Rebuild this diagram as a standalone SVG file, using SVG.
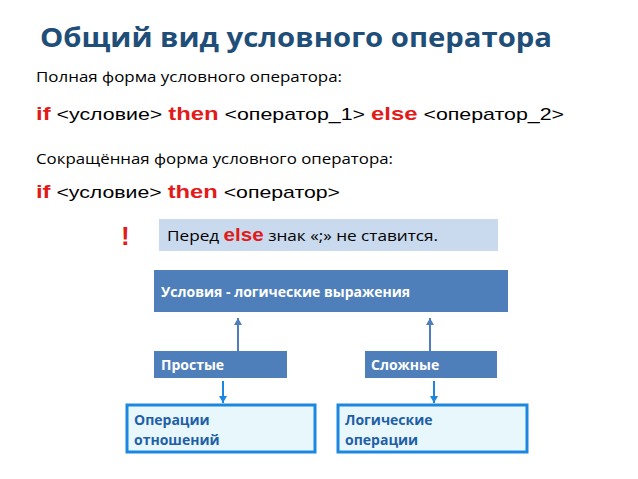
<svg xmlns="http://www.w3.org/2000/svg" width="638" height="479" viewBox="0 0 638 479">
<defs>
<style>
.c{font-family:"Open Sans","Noto Sans",sans-serif}
.a{font-family:"Liberation Sans",Arial,sans-serif}
.kw{fill:#e21a1a;font-weight:bold}
.w{fill:#fff;font-weight:bold;font-size:14px}
.b{fill:#1f5fa8;font-weight:bold;font-size:14px}
.dark{fill:#4f7fba}
.lt{fill:#e8f7fb;stroke:#1b87e0;stroke-width:3}
</style>
<marker id="ah" markerWidth="8" markerHeight="8" refX="7" refY="4" orient="auto" markerUnits="userSpaceOnUse"><path d="M0,0 L7,4 L0,8 z" fill="#4f7fba"/></marker>
<marker id="ah2" markerWidth="8" markerHeight="8" refX="7" refY="4" orient="auto" markerUnits="userSpaceOnUse"><path d="M0,0 L7,4 L0,8 z" fill="#1b87e0"/></marker>
</defs>
<rect width="638" height="479" fill="#fff"/>
<text class="c" x="40" y="47" font-size="27" font-weight="bold" fill="#1f4e79" textLength="512" lengthAdjust="spacingAndGlyphs">Общий вид условного оператора</text>
<text class="c" x="36" y="82" font-size="15" fill="#000" textLength="306" lengthAdjust="spacingAndGlyphs">Полная форма условного оператора:</text>
<text class="a" x="36" y="120" font-size="17" textLength="528" lengthAdjust="spacingAndGlyphs"><tspan class="kw" font-size="19">if</tspan> &lt;условие&gt; <tspan class="kw" font-size="19">then</tspan> &lt;оператор_1&gt; <tspan class="kw" font-size="19">else</tspan> &lt;оператор_2&gt;</text>
<text class="c" x="36" y="164" font-size="15" fill="#000" textLength="357" lengthAdjust="spacingAndGlyphs">Сокращённая форма условного оператора:</text>
<text class="a" x="36" y="198" font-size="17" textLength="304" lengthAdjust="spacingAndGlyphs"><tspan class="kw" font-size="19">if</tspan> &lt;условие&gt; <tspan class="kw" font-size="19">then</tspan> &lt;оператор&gt;</text>
<g id="note">
<text class="a" x="121" y="245" font-size="26" font-weight="bold" fill="#e21a1a">!</text>
<rect x="159" y="219" width="339" height="32" fill="#c9d9ee"/>
<text class="c" x="167" y="241" font-size="15" fill="#000" textLength="271" lengthAdjust="spacingAndGlyphs">Перед <tspan class="a kw" font-size="18">else</tspan> знак «;» не ставится.</text>
</g>
<g id="conn" fill="none">
<line x1="238" y1="351" x2="238" y2="318" stroke="#4f7fba" stroke-width="2" marker-end="url(#ah)"/>
<line x1="430" y1="351" x2="430" y2="318" stroke="#4f7fba" stroke-width="2" marker-end="url(#ah)"/>
<line x1="223" y1="381" x2="223" y2="403" stroke="#1b87e0" stroke-width="2" marker-end="url(#ah2)"/>
<line x1="434" y1="381" x2="434" y2="403" stroke="#1b87e0" stroke-width="2" marker-end="url(#ah2)"/>
</g>
<g id="cond"><rect class="dark" x="154" y="270" width="354" height="42"/><text class="c w" x="161" y="297">Условия - логические выражения</text></g>
<g id="simple"><rect class="dark" x="154" y="351" width="133" height="27"/><text class="c w" x="161" y="370">Простые</text></g>
<g id="complex"><rect class="dark" x="365" y="351" width="132" height="27"/><text class="c w" x="371" y="370">Сложные</text></g>
<g id="rel"><rect class="lt" x="127" y="405" width="188" height="47"/><text class="c b" x="134" y="425">Операции</text><text class="c b" x="134" y="445">отношений</text></g>
<g id="log"><rect class="lt" x="338" y="405" width="189" height="47"/><text class="c b" x="345" y="425">Логические</text><text class="c b" x="345" y="445">операции</text></g>
</svg>
